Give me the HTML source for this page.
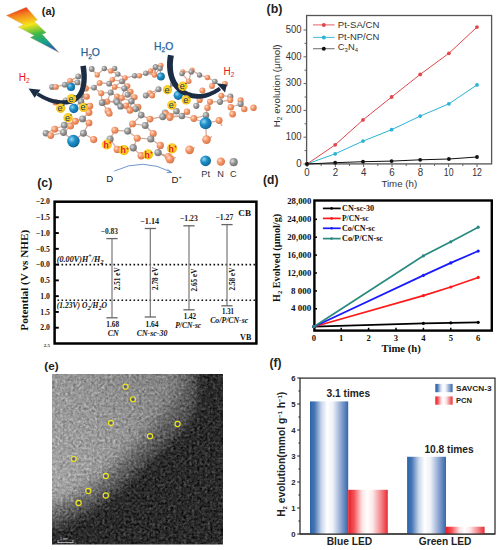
<!DOCTYPE html>
<html><head><meta charset="utf-8"><style>
html,body{margin:0;padding:0;background:#fff;width:502px;height:550px;overflow:hidden}
svg{display:block}
</style></head><body>
<svg width="502" height="550" viewBox="0 0 502 550">

<defs>
 <radialGradient id="gO" cx="0.35" cy="0.35" r="0.75"><stop offset="0" stop-color="#ffdcc6"/><stop offset="0.45" stop-color="#f39467"/><stop offset="1" stop-color="#d06f42"/></radialGradient>
 <radialGradient id="gG" cx="0.35" cy="0.35" r="0.75"><stop offset="0" stop-color="#e2e2e2"/><stop offset="0.45" stop-color="#979797"/><stop offset="1" stop-color="#666666"/></radialGradient>
 <radialGradient id="gB" cx="0.35" cy="0.35" r="0.75"><stop offset="0" stop-color="#8fd6f5"/><stop offset="0.4" stop-color="#1f8fc8"/><stop offset="1" stop-color="#0d5f8f"/></radialGradient>
 <radialGradient id="gY" cx="0.4" cy="0.4" r="0.7"><stop offset="0" stop-color="#ffe24a"/><stop offset="1" stop-color="#f2b705"/></radialGradient>
 <linearGradient id="bolt" x1="30" y1="5" x2="40" y2="52" gradientUnits="userSpaceOnUse">
  <stop offset="0" stop-color="#e8231c"/><stop offset="0.16" stop-color="#f5831f"/><stop offset="0.4" stop-color="#f4e619"/>
  <stop offset="0.62" stop-color="#3cb84a"/><stop offset="0.82" stop-color="#18a08e"/><stop offset="1" stop-color="#2a5cb0"/>
 </linearGradient>
 <linearGradient id="barB" x1="0" y1="0" x2="1" y2="0">
  <stop offset="0" stop-color="#2c63aa"/><stop offset="0.12" stop-color="#4776b5"/><stop offset="0.3" stop-color="#c9d6ea"/>
  <stop offset="0.45" stop-color="#ffffff"/><stop offset="0.6" stop-color="#eef1f8"/><stop offset="0.82" stop-color="#8aa3cf"/><stop offset="1" stop-color="#3566ab"/>
 </linearGradient>
 <linearGradient id="barR" x1="0" y1="0" x2="1" y2="0">
  <stop offset="0" stop-color="#ec1c24"/><stop offset="0.15" stop-color="#f2545a"/><stop offset="0.35" stop-color="#fde3e4"/>
  <stop offset="0.48" stop-color="#ffffff"/><stop offset="0.62" stop-color="#fde8e9"/><stop offset="0.85" stop-color="#f27b80"/><stop offset="1" stop-color="#ea2a32"/>
 </linearGradient>
 <filter id="blur6" x="-20%" y="-20%" width="140%" height="140%"><feGaussianBlur stdDeviation="7"/></filter>
 <filter id="tem" x="-10%" y="-10%" width="120%" height="120%" color-interpolation-filters="sRGB">
  <feGaussianBlur in="SourceGraphic" stdDeviation="5" result="base"/>
  <feTurbulence type="fractalNoise" baseFrequency="0.38" numOctaves="3" seed="11" result="t"/>
  <feColorMatrix in="t" type="matrix" values="0.33 0.33 0.33 0 0  0.33 0.33 0.33 0 0  0.33 0.33 0.33 0 0  0 0 0 0 1" result="gn"/>
  <feComposite in="base" in2="gn" operator="arithmetic" k1="0" k2="1" k3="0.7" k4="-0.35"/>
 </filter>
 <linearGradient id="temL" x1="50" y1="500" x2="200" y2="370" gradientUnits="userSpaceOnUse"><stop offset="0" stop-color="#a8a8a8"/><stop offset="0.5" stop-color="#969696"/><stop offset="1" stop-color="#7a7a7a"/></linearGradient>
 <clipPath id="temclip"><rect x="52" y="374" width="171" height="170.5"/></clipPath>
</defs>

<rect width="502" height="550" fill="#fff"/>
<g>
<polygon points="6.4,15.5 26.3,7.2 37.5,19.9 34.3,21.5 46.2,32.7 42.2,34.3 59,52.6 30.3,37.5 34.3,35.4 18.3,27.1 23.9,24.7" fill="url(#bolt)" stroke="#c9a060" stroke-width="0.3"/>
<text x="41.8" y="15.3" font-family='"Liberation Sans", sans-serif' font-size="11" font-weight="bold" font-style="normal" fill="#222" text-anchor="start" >(a)</text>
<line x1="52.1" y1="86.9" x2="55.9" y2="86.9" stroke="#c99a86" stroke-width="1.2" opacity="0.85"/>
<line x1="55.9" y1="86.9" x2="64.8" y2="84.7" stroke="#c99a86" stroke-width="1.2" opacity="0.85"/>
<line x1="64.8" y1="84.7" x2="70" y2="80.9" stroke="#c99a86" stroke-width="1.2" opacity="0.85"/>
<line x1="64.8" y1="84.7" x2="71" y2="86.9" stroke="#c99a86" stroke-width="1.2" opacity="0.85"/>
<line x1="70" y1="80.9" x2="77.5" y2="82.4" stroke="#c99a86" stroke-width="1.2" opacity="0.85"/>
<line x1="70" y1="80.9" x2="78.3" y2="76.4" stroke="#c99a86" stroke-width="1.2" opacity="0.85"/>
<line x1="70" y1="80.9" x2="71" y2="86.9" stroke="#c99a86" stroke-width="1.2" opacity="0.85"/>
<line x1="77.5" y1="82.4" x2="85.7" y2="88.4" stroke="#c99a86" stroke-width="1.2" opacity="0.85"/>
<line x1="77.5" y1="82.4" x2="71" y2="86.9" stroke="#c99a86" stroke-width="1.2" opacity="0.85"/>
<line x1="91.7" y1="69" x2="97.2" y2="74.9" stroke="#c99a86" stroke-width="1.2" opacity="0.85"/>
<line x1="85.7" y1="88.4" x2="94" y2="87.6" stroke="#c99a86" stroke-width="1.2" opacity="0.85"/>
<line x1="85.7" y1="88.4" x2="81.3" y2="95.1" stroke="#c99a86" stroke-width="1.2" opacity="0.85"/>
<line x1="94" y1="87.6" x2="99.6" y2="82.9" stroke="#c99a86" stroke-width="1.2" opacity="0.85"/>
<line x1="94" y1="87.6" x2="101.2" y2="93.2" stroke="#c99a86" stroke-width="1.2" opacity="0.85"/>
<line x1="81.3" y1="95.1" x2="86.6" y2="96.6" stroke="#c99a86" stroke-width="1.2" opacity="0.85"/>
<line x1="81" y1="101.4" x2="86.6" y2="96.6" stroke="#c99a86" stroke-width="1.2" opacity="0.85"/>
<line x1="81" y1="101.4" x2="89.8" y2="106.2" stroke="#c99a86" stroke-width="1.2" opacity="0.85"/>
<line x1="81" y1="101.4" x2="73.8" y2="108.5" stroke="#c99a86" stroke-width="1.2" opacity="0.85"/>
<line x1="89" y1="112.5" x2="82.6" y2="118.9" stroke="#c99a86" stroke-width="1.2" opacity="0.85"/>
<line x1="103.3" y1="102.2" x2="102" y2="102.8" stroke="#c99a86" stroke-width="1.2" opacity="0.85"/>
<line x1="108" y1="110.9" x2="102" y2="102.8" stroke="#c99a86" stroke-width="1.2" opacity="0.85"/>
<line x1="75.4" y1="121.3" x2="82.6" y2="118.9" stroke="#c99a86" stroke-width="1.2" opacity="0.85"/>
<line x1="75.4" y1="121.3" x2="64.3" y2="125.3" stroke="#c99a86" stroke-width="1.2" opacity="0.85"/>
<line x1="82.6" y1="118.9" x2="89" y2="122.9" stroke="#c99a86" stroke-width="1.2" opacity="0.85"/>
<line x1="89" y1="122.9" x2="83.4" y2="133.2" stroke="#c99a86" stroke-width="1.2" opacity="0.85"/>
<line x1="70.6" y1="126.1" x2="64.3" y2="125.3" stroke="#c99a86" stroke-width="1.2" opacity="0.85"/>
<line x1="70.6" y1="126.1" x2="63.5" y2="132.5" stroke="#c99a86" stroke-width="1.2" opacity="0.85"/>
<line x1="64.3" y1="125.3" x2="54.7" y2="129.3" stroke="#c99a86" stroke-width="1.2" opacity="0.85"/>
<line x1="54.7" y1="129.3" x2="45.9" y2="133.2" stroke="#c99a86" stroke-width="1.2" opacity="0.85"/>
<line x1="54.7" y1="129.3" x2="63.5" y2="132.5" stroke="#c99a86" stroke-width="1.2" opacity="0.85"/>
<line x1="50.7" y1="135.6" x2="45.9" y2="133.2" stroke="#c99a86" stroke-width="1.2" opacity="0.85"/>
<line x1="50.7" y1="135.6" x2="63.5" y2="132.5" stroke="#c99a86" stroke-width="1.2" opacity="0.85"/>
<line x1="63.5" y1="132.5" x2="73.4" y2="141.1" stroke="#c99a86" stroke-width="1.2" opacity="0.85"/>
<line x1="83.4" y1="133.2" x2="93.7" y2="139.6" stroke="#c99a86" stroke-width="1.2" opacity="0.85"/>
<line x1="83.4" y1="133.2" x2="73.4" y2="141.1" stroke="#c99a86" stroke-width="1.2" opacity="0.85"/>
<line x1="104.3" y1="68.5" x2="97.2" y2="74.9" stroke="#c99a86" stroke-width="1.2" opacity="0.85"/>
<line x1="104.3" y1="68.5" x2="110.7" y2="70.9" stroke="#c99a86" stroke-width="1.2" opacity="0.85"/>
<line x1="114.7" y1="68.5" x2="110.7" y2="70.9" stroke="#c99a86" stroke-width="1.2" opacity="0.85"/>
<line x1="117.9" y1="74.1" x2="110.7" y2="70.9" stroke="#c99a86" stroke-width="1.2" opacity="0.85"/>
<line x1="117.9" y1="74.1" x2="112.3" y2="79.7" stroke="#c99a86" stroke-width="1.2" opacity="0.85"/>
<line x1="117.9" y1="74.1" x2="125" y2="78.1" stroke="#c99a86" stroke-width="1.2" opacity="0.85"/>
<line x1="134.6" y1="75.7" x2="125" y2="78.1" stroke="#c99a86" stroke-width="1.2" opacity="0.85"/>
<line x1="134.6" y1="75.7" x2="139.4" y2="75.7" stroke="#c99a86" stroke-width="1.2" opacity="0.85"/>
<line x1="145.8" y1="73.3" x2="139.4" y2="75.7" stroke="#c99a86" stroke-width="1.2" opacity="0.85"/>
<line x1="145.8" y1="73.3" x2="150.6" y2="70.9" stroke="#c99a86" stroke-width="1.2" opacity="0.85"/>
<line x1="145.8" y1="73.3" x2="154.5" y2="74.9" stroke="#c99a86" stroke-width="1.2" opacity="0.85"/>
<line x1="155.3" y1="67" x2="150.6" y2="70.9" stroke="#c99a86" stroke-width="1.2" opacity="0.85"/>
<line x1="155.3" y1="67" x2="154.5" y2="74.9" stroke="#c99a86" stroke-width="1.2" opacity="0.85"/>
<line x1="155.3" y1="67" x2="160.9" y2="65.4" stroke="#c99a86" stroke-width="1.2" opacity="0.85"/>
<line x1="160.1" y1="68.5" x2="150.6" y2="70.9" stroke="#c99a86" stroke-width="1.2" opacity="0.85"/>
<line x1="160.1" y1="68.5" x2="154.5" y2="74.9" stroke="#c99a86" stroke-width="1.2" opacity="0.85"/>
<line x1="160.1" y1="68.5" x2="160.9" y2="65.4" stroke="#c99a86" stroke-width="1.2" opacity="0.85"/>
<line x1="160.1" y1="68.5" x2="160.9" y2="76.5" stroke="#c99a86" stroke-width="1.2" opacity="0.85"/>
<line x1="109.1" y1="83.7" x2="112.3" y2="79.7" stroke="#c99a86" stroke-width="1.2" opacity="0.85"/>
<line x1="109.1" y1="83.7" x2="99.6" y2="82.9" stroke="#c99a86" stroke-width="1.2" opacity="0.85"/>
<line x1="109.1" y1="83.7" x2="114.7" y2="86.9" stroke="#c99a86" stroke-width="1.2" opacity="0.85"/>
<line x1="121.9" y1="81.3" x2="112.3" y2="79.7" stroke="#c99a86" stroke-width="1.2" opacity="0.85"/>
<line x1="121.9" y1="81.3" x2="125" y2="78.1" stroke="#c99a86" stroke-width="1.2" opacity="0.85"/>
<line x1="121.9" y1="81.3" x2="114.7" y2="86.9" stroke="#c99a86" stroke-width="1.2" opacity="0.85"/>
<line x1="121.9" y1="81.3" x2="127.5" y2="86.1" stroke="#c99a86" stroke-width="1.2" opacity="0.85"/>
<line x1="110.7" y1="92.5" x2="114.7" y2="86.9" stroke="#c99a86" stroke-width="1.2" opacity="0.85"/>
<line x1="110.7" y1="92.5" x2="101.2" y2="93.2" stroke="#c99a86" stroke-width="1.2" opacity="0.85"/>
<line x1="110.7" y1="92.5" x2="117.1" y2="96.4" stroke="#c99a86" stroke-width="1.2" opacity="0.85"/>
<line x1="110.7" y1="92.5" x2="107" y2="101.6" stroke="#c99a86" stroke-width="1.2" opacity="0.85"/>
<line x1="124.3" y1="88.5" x2="125" y2="78.1" stroke="#c99a86" stroke-width="1.2" opacity="0.85"/>
<line x1="124.3" y1="88.5" x2="114.7" y2="86.9" stroke="#c99a86" stroke-width="1.2" opacity="0.85"/>
<line x1="124.3" y1="88.5" x2="127.5" y2="86.1" stroke="#c99a86" stroke-width="1.2" opacity="0.85"/>
<line x1="124.3" y1="88.5" x2="121.9" y2="98" stroke="#c99a86" stroke-width="1.2" opacity="0.85"/>
<line x1="124.3" y1="88.5" x2="130.6" y2="91.7" stroke="#c99a86" stroke-width="1.2" opacity="0.85"/>
<line x1="127.5" y1="94.8" x2="127.5" y2="86.1" stroke="#c99a86" stroke-width="1.2" opacity="0.85"/>
<line x1="127.5" y1="94.8" x2="121.9" y2="98" stroke="#c99a86" stroke-width="1.2" opacity="0.85"/>
<line x1="127.5" y1="94.8" x2="130.6" y2="91.7" stroke="#c99a86" stroke-width="1.2" opacity="0.85"/>
<line x1="127.5" y1="94.8" x2="134.6" y2="97.2" stroke="#c99a86" stroke-width="1.2" opacity="0.85"/>
<line x1="145.8" y1="95.6" x2="149.8" y2="93.2" stroke="#c99a86" stroke-width="1.2" opacity="0.85"/>
<line x1="145.8" y1="95.6" x2="152.2" y2="95.6" stroke="#c99a86" stroke-width="1.2" opacity="0.85"/>
<line x1="158.5" y1="89.3" x2="149.8" y2="93.2" stroke="#c99a86" stroke-width="1.2" opacity="0.85"/>
<line x1="158.5" y1="89.3" x2="152.2" y2="95.6" stroke="#c99a86" stroke-width="1.2" opacity="0.85"/>
<line x1="102" y1="102.8" x2="101.2" y2="93.2" stroke="#c99a86" stroke-width="1.2" opacity="0.85"/>
<line x1="102" y1="102.8" x2="107" y2="101.6" stroke="#c99a86" stroke-width="1.2" opacity="0.85"/>
<line x1="116.3" y1="101.2" x2="117.1" y2="96.4" stroke="#c99a86" stroke-width="1.2" opacity="0.85"/>
<line x1="116.3" y1="101.2" x2="121.9" y2="98" stroke="#c99a86" stroke-width="1.2" opacity="0.85"/>
<line x1="116.3" y1="101.2" x2="107" y2="101.6" stroke="#c99a86" stroke-width="1.2" opacity="0.85"/>
<line x1="131.4" y1="101.2" x2="121.9" y2="98" stroke="#c99a86" stroke-width="1.2" opacity="0.85"/>
<line x1="131.4" y1="101.2" x2="130.6" y2="91.7" stroke="#c99a86" stroke-width="1.2" opacity="0.85"/>
<line x1="131.4" y1="101.2" x2="134.6" y2="97.2" stroke="#c99a86" stroke-width="1.2" opacity="0.85"/>
<line x1="131.4" y1="101.2" x2="126.1" y2="105.6" stroke="#c99a86" stroke-width="1.2" opacity="0.85"/>
<line x1="131.4" y1="101.2" x2="130" y2="110.4" stroke="#c99a86" stroke-width="1.2" opacity="0.85"/>
<line x1="131.4" y1="101.2" x2="138" y2="107.2" stroke="#c99a86" stroke-width="1.2" opacity="0.85"/>
<line x1="150.6" y1="70.9" x2="155.9" y2="67" stroke="#c99a86" stroke-width="1.2" opacity="0.85"/>
<line x1="154.5" y1="74.9" x2="155.9" y2="67" stroke="#c99a86" stroke-width="1.2" opacity="0.85"/>
<line x1="154.5" y1="74.9" x2="160.9" y2="76.5" stroke="#c99a86" stroke-width="1.2" opacity="0.85"/>
<line x1="160.9" y1="65.4" x2="155.9" y2="67" stroke="#c99a86" stroke-width="1.2" opacity="0.85"/>
<line x1="117.1" y1="96.4" x2="117.3" y2="102.4" stroke="#c99a86" stroke-width="1.2" opacity="0.85"/>
<line x1="121.9" y1="98" x2="117.3" y2="102.4" stroke="#c99a86" stroke-width="1.2" opacity="0.85"/>
<line x1="121.9" y1="98" x2="120.5" y2="106.4" stroke="#c99a86" stroke-width="1.2" opacity="0.85"/>
<line x1="107" y1="101.6" x2="117.3" y2="102.4" stroke="#c99a86" stroke-width="1.2" opacity="0.85"/>
<line x1="117.3" y1="102.4" x2="126.1" y2="105.6" stroke="#c99a86" stroke-width="1.2" opacity="0.85"/>
<line x1="120.5" y1="106.4" x2="126.1" y2="105.6" stroke="#c99a86" stroke-width="1.2" opacity="0.85"/>
<line x1="120.5" y1="106.4" x2="130" y2="110.4" stroke="#c99a86" stroke-width="1.2" opacity="0.85"/>
<line x1="126.1" y1="105.6" x2="135.6" y2="108.8" stroke="#c99a86" stroke-width="1.2" opacity="0.85"/>
<line x1="130" y1="110.4" x2="135.6" y2="108.8" stroke="#c99a86" stroke-width="1.2" opacity="0.85"/>
<line x1="135.6" y1="108.8" x2="138" y2="107.2" stroke="#c99a86" stroke-width="1.2" opacity="0.85"/>
<line x1="138" y1="107.2" x2="141.2" y2="115.1" stroke="#c99a86" stroke-width="1.2" opacity="0.85"/>
<line x1="141.2" y1="115.1" x2="150" y2="119.1" stroke="#c99a86" stroke-width="1.2" opacity="0.85"/>
<line x1="141.2" y1="115.1" x2="132.5" y2="123.9" stroke="#c99a86" stroke-width="1.2" opacity="0.85"/>
<line x1="150" y1="119.1" x2="162.7" y2="116.7" stroke="#c99a86" stroke-width="1.2" opacity="0.85"/>
<line x1="150" y1="119.1" x2="145.2" y2="125.5" stroke="#c99a86" stroke-width="1.2" opacity="0.85"/>
<line x1="162.7" y1="116.7" x2="169.9" y2="117.5" stroke="#c99a86" stroke-width="1.2" opacity="0.85"/>
<line x1="162.7" y1="116.7" x2="165.9" y2="114.3" stroke="#c99a86" stroke-width="1.2" opacity="0.85"/>
<line x1="162.7" y1="116.7" x2="170.1" y2="116.2" stroke="#c99a86" stroke-width="1.2" opacity="0.85"/>
<line x1="169.9" y1="117.5" x2="176.5" y2="111.3" stroke="#c99a86" stroke-width="1.2" opacity="0.85"/>
<line x1="169.9" y1="117.5" x2="181.9" y2="116" stroke="#c99a86" stroke-width="1.2" opacity="0.85"/>
<line x1="169.9" y1="117.5" x2="165" y2="112.6" stroke="#c99a86" stroke-width="1.2" opacity="0.85"/>
<line x1="165.9" y1="114.3" x2="165" y2="112.6" stroke="#c99a86" stroke-width="1.2" opacity="0.85"/>
<line x1="132.5" y1="123.9" x2="145.2" y2="125.5" stroke="#c99a86" stroke-width="1.2" opacity="0.85"/>
<line x1="132.5" y1="123.9" x2="127.7" y2="131.1" stroke="#c99a86" stroke-width="1.2" opacity="0.85"/>
<line x1="145.2" y1="125.5" x2="153.2" y2="133.5" stroke="#c99a86" stroke-width="1.2" opacity="0.85"/>
<line x1="114.9" y1="130.3" x2="127.7" y2="131.1" stroke="#c99a86" stroke-width="1.2" opacity="0.85"/>
<line x1="114.9" y1="130.3" x2="110.1" y2="139" stroke="#c99a86" stroke-width="1.2" opacity="0.85"/>
<line x1="127.7" y1="131.1" x2="137.2" y2="138.2" stroke="#c99a86" stroke-width="1.2" opacity="0.85"/>
<line x1="153.2" y1="133.5" x2="150.8" y2="139" stroke="#c99a86" stroke-width="1.2" opacity="0.85"/>
<line x1="137.2" y1="138.2" x2="150.8" y2="139" stroke="#c99a86" stroke-width="1.2" opacity="0.85"/>
<line x1="137.2" y1="138.2" x2="133.2" y2="147.8" stroke="#c99a86" stroke-width="1.2" opacity="0.85"/>
<line x1="150.8" y1="139" x2="160.3" y2="145.4" stroke="#c99a86" stroke-width="1.2" opacity="0.85"/>
<line x1="110.1" y1="139" x2="117.3" y2="149.4" stroke="#c99a86" stroke-width="1.2" opacity="0.85"/>
<line x1="133.2" y1="147.8" x2="141.2" y2="155.8" stroke="#c99a86" stroke-width="1.2" opacity="0.85"/>
<line x1="160.3" y1="145.4" x2="158" y2="152.6" stroke="#c99a86" stroke-width="1.2" opacity="0.85"/>
<line x1="158" y1="152.6" x2="168.3" y2="156.6" stroke="#c99a86" stroke-width="1.2" opacity="0.85"/>
<line x1="158" y1="152.6" x2="170.1" y2="159.1" stroke="#c99a86" stroke-width="1.2" opacity="0.85"/>
<line x1="181.9" y1="73.6" x2="182.8" y2="71.9" stroke="#c99a86" stroke-width="1.2" opacity="0.85"/>
<line x1="181.9" y1="73.6" x2="188.7" y2="81.2" stroke="#c99a86" stroke-width="1.2" opacity="0.85"/>
<line x1="191.2" y1="71.9" x2="182.8" y2="71.9" stroke="#c99a86" stroke-width="1.2" opacity="0.85"/>
<line x1="191.2" y1="71.9" x2="192.1" y2="70.2" stroke="#c99a86" stroke-width="1.2" opacity="0.85"/>
<line x1="191.2" y1="71.9" x2="188.7" y2="81.2" stroke="#c99a86" stroke-width="1.2" opacity="0.85"/>
<line x1="199.5" y1="75" x2="192.1" y2="70.2" stroke="#c99a86" stroke-width="1.2" opacity="0.85"/>
<line x1="199.5" y1="75" x2="207.5" y2="77.4" stroke="#c99a86" stroke-width="1.2" opacity="0.85"/>
<line x1="214.8" y1="81.5" x2="207.5" y2="77.4" stroke="#c99a86" stroke-width="1.2" opacity="0.85"/>
<line x1="214.8" y1="81.5" x2="212" y2="86" stroke="#c99a86" stroke-width="1.2" opacity="0.85"/>
<line x1="230.4" y1="96.5" x2="221.3" y2="95.7" stroke="#c99a86" stroke-width="1.2" opacity="0.85"/>
<line x1="230.4" y1="96.5" x2="230.2" y2="99.9" stroke="#c99a86" stroke-width="1.2" opacity="0.85"/>
<line x1="220" y1="101.8" x2="221.3" y2="95.7" stroke="#c99a86" stroke-width="1.2" opacity="0.85"/>
<line x1="220" y1="101.8" x2="210" y2="101.8" stroke="#c99a86" stroke-width="1.2" opacity="0.85"/>
<line x1="220" y1="101.8" x2="230.2" y2="99.9" stroke="#c99a86" stroke-width="1.2" opacity="0.85"/>
<line x1="240.6" y1="104" x2="240.6" y2="100.4" stroke="#c99a86" stroke-width="1.2" opacity="0.85"/>
<line x1="240.6" y1="104" x2="230.8" y2="107.3" stroke="#c99a86" stroke-width="1.2" opacity="0.85"/>
<line x1="240.6" y1="104" x2="244.3" y2="109.1" stroke="#c99a86" stroke-width="1.2" opacity="0.85"/>
<line x1="196.3" y1="105.8" x2="199.7" y2="99.9" stroke="#c99a86" stroke-width="1.2" opacity="0.85"/>
<line x1="176.5" y1="111.3" x2="170.1" y2="116.2" stroke="#c99a86" stroke-width="1.2" opacity="0.85"/>
<line x1="181.9" y1="116" x2="187" y2="111.7" stroke="#c99a86" stroke-width="1.2" opacity="0.85"/>
<line x1="181.9" y1="116" x2="170.1" y2="116.2" stroke="#c99a86" stroke-width="1.2" opacity="0.85"/>
<line x1="181.9" y1="116" x2="193.8" y2="118.5" stroke="#c99a86" stroke-width="1.2" opacity="0.85"/>
<line x1="206" y1="115.3" x2="207.5" y2="107.7" stroke="#c99a86" stroke-width="1.2" opacity="0.85"/>
<line x1="206" y1="115.3" x2="193.8" y2="118.5" stroke="#c99a86" stroke-width="1.2" opacity="0.85"/>
<line x1="206" y1="115.3" x2="205.6" y2="123.3" stroke="#c99a86" stroke-width="1.2" opacity="0.85"/>
<line x1="165" y1="112.6" x2="170.1" y2="116.2" stroke="#c99a86" stroke-width="1.2" opacity="0.85"/>
<line x1="219.1" y1="120.5" x2="205.6" y2="123.3" stroke="#c99a86" stroke-width="1.2" opacity="0.85"/>
<line x1="193.8" y1="118.5" x2="205.6" y2="123.3" stroke="#c99a86" stroke-width="1.2" opacity="0.85"/>
<line x1="205.6" y1="123.3" x2="206.5" y2="139.6" stroke="#c99a86" stroke-width="1.2" opacity="0.85"/>
<line x1="206.5" y1="139.6" x2="212" y2="136.5" stroke="#c99a86" stroke-width="1.2" opacity="0.85"/>
<line x1="189.6" y1="149.8" x2="195" y2="147.5" stroke="#c99a86" stroke-width="1.2" opacity="0.85"/>
<line x1="170.1" y1="159.1" x2="176" y2="157.5" stroke="#c99a86" stroke-width="1.2" opacity="0.85"/>
<line x1="73" y1="141.2" x2="73.5" y2="146" stroke="#c99a86" stroke-width="1.2" opacity="0.85"/>
<line x1="219.1" y1="120.5" x2="222" y2="126" stroke="#c99a86" stroke-width="1.2" opacity="0.85"/>
<circle cx="160.9" cy="65.4" r="2.64" fill="url(#gO)"/>
<circle cx="155.3" cy="67" r="2.64" fill="url(#gG)"/>
<circle cx="155.9" cy="67" r="2.64" fill="url(#gG)"/>
<circle cx="104.3" cy="68.5" r="2.64" fill="url(#gG)"/>
<circle cx="114.7" cy="68.5" r="2.64" fill="url(#gG)"/>
<circle cx="160.1" cy="68.5" r="2.64" fill="url(#gG)"/>
<circle cx="91.7" cy="69" r="2.88" fill="url(#gG)"/>
<circle cx="192.1" cy="70.2" r="2.64" fill="url(#gO)"/>
<circle cx="110.7" cy="70.9" r="2.64" fill="url(#gO)"/>
<circle cx="150.6" cy="70.9" r="2.64" fill="url(#gO)"/>
<circle cx="182.8" cy="71.9" r="2.64" fill="url(#gO)"/>
<circle cx="191.2" cy="71.9" r="2.64" fill="url(#gG)"/>
<circle cx="145.8" cy="73.3" r="2.76" fill="url(#gG)"/>
<circle cx="181.9" cy="73.6" r="2.64" fill="url(#gG)"/>
<circle cx="117.9" cy="74.1" r="2.64" fill="url(#gG)"/>
<circle cx="97.2" cy="74.9" r="2.64" fill="url(#gO)"/>
<circle cx="154.5" cy="74.9" r="2.76" fill="url(#gO)"/>
<circle cx="199.5" cy="75" r="2.64" fill="url(#gG)"/>
<circle cx="134.6" cy="75.7" r="2.76" fill="url(#gG)"/>
<circle cx="139.4" cy="75.7" r="2.76" fill="url(#gO)"/>
<circle cx="78.3" cy="76.4" r="2.88" fill="url(#gG)"/>
<circle cx="160.9" cy="76.5" r="4.00" fill="url(#gB)"/>
<circle cx="207.5" cy="77.4" r="2.76" fill="url(#gO)"/>
<circle cx="125" cy="78.1" r="2.76" fill="url(#gO)"/>
<circle cx="112.3" cy="79.7" r="2.76" fill="url(#gO)"/>
<circle cx="70" cy="80.9" r="2.88" fill="url(#gO)"/>
<circle cx="188.7" cy="81.2" r="2.76" fill="url(#gO)"/>
<circle cx="121.9" cy="81.3" r="2.88" fill="url(#gG)"/>
<circle cx="214.8" cy="81.5" r="2.76" fill="url(#gG)"/>
<circle cx="77.5" cy="82.4" r="2.88" fill="url(#gG)"/>
<circle cx="99.6" cy="82.9" r="2.88" fill="url(#gO)"/>
<circle cx="109.1" cy="83.7" r="2.88" fill="url(#gG)"/>
<circle cx="172.6" cy="83.8" r="2.76" fill="url(#gG)"/>
<circle cx="225" cy="84" r="2.88" fill="url(#gO)"/>
<circle cx="64.8" cy="84.7" r="2.88" fill="url(#gG)"/>
<circle cx="212" cy="86" r="2.88" fill="url(#gO)"/>
<circle cx="127.5" cy="86.1" r="2.88" fill="url(#gO)"/>
<circle cx="52.1" cy="86.9" r="2.88" fill="url(#gG)"/>
<circle cx="55.9" cy="86.9" r="2.88" fill="url(#gO)"/>
<circle cx="71" cy="86.9" r="4.10" fill="url(#gB)"/>
<circle cx="114.7" cy="86.9" r="2.88" fill="url(#gO)"/>
<circle cx="94" cy="87.6" r="2.88" fill="url(#gG)"/>
<circle cx="85.7" cy="88.4" r="3.22" fill="url(#gO)"/>
<circle cx="124.3" cy="88.5" r="2.99" fill="url(#gG)"/>
<circle cx="158.5" cy="89.3" r="2.99" fill="url(#gG)"/>
<circle cx="202.4" cy="90.6" r="2.99" fill="url(#gO)"/>
<circle cx="130.6" cy="91.7" r="2.99" fill="url(#gO)"/>
<circle cx="110.7" cy="92.5" r="2.99" fill="url(#gG)"/>
<circle cx="101.2" cy="93.2" r="2.99" fill="url(#gO)"/>
<circle cx="149.8" cy="93.2" r="2.99" fill="url(#gO)"/>
<circle cx="127.5" cy="94.8" r="2.99" fill="url(#gG)"/>
<circle cx="81.3" cy="95.1" r="3.22" fill="url(#gG)"/>
<circle cx="178.2" cy="95.3" r="4.60" fill="url(#gB)"/>
<circle cx="145.8" cy="95.6" r="2.99" fill="url(#gG)"/>
<circle cx="152.2" cy="95.6" r="2.99" fill="url(#gO)"/>
<circle cx="221.3" cy="95.7" r="2.99" fill="url(#gO)"/>
<circle cx="117.1" cy="96.4" r="2.99" fill="url(#gO)"/>
<circle cx="230.4" cy="96.5" r="2.99" fill="url(#gG)"/>
<circle cx="86.6" cy="96.6" r="3.22" fill="url(#gO)"/>
<circle cx="134.6" cy="97.2" r="2.99" fill="url(#gO)"/>
<circle cx="121.9" cy="98" r="2.99" fill="url(#gO)"/>
<circle cx="199.7" cy="99.9" r="3.10" fill="url(#gO)"/>
<circle cx="230.2" cy="99.9" r="3.10" fill="url(#gO)"/>
<circle cx="240.6" cy="100.4" r="3.10" fill="url(#gO)"/>
<circle cx="65.9" cy="100.6" r="3.22" fill="url(#gG)"/>
<circle cx="116.3" cy="101.2" r="3.22" fill="url(#gG)"/>
<circle cx="131.4" cy="101.2" r="3.22" fill="url(#gG)"/>
<circle cx="81" cy="101.4" r="3.22" fill="url(#gG)"/>
<circle cx="107" cy="101.6" r="3.22" fill="url(#gO)"/>
<circle cx="210" cy="101.8" r="3.10" fill="url(#gO)"/>
<circle cx="220" cy="101.8" r="3.10" fill="url(#gG)"/>
<circle cx="55.5" cy="102.2" r="3.22" fill="url(#gO)"/>
<circle cx="103.3" cy="102.2" r="3.22" fill="url(#gO)"/>
<circle cx="117.3" cy="102.4" r="3.22" fill="url(#gG)"/>
<circle cx="102" cy="102.8" r="3.22" fill="url(#gG)"/>
<circle cx="240.6" cy="104" r="3.10" fill="url(#gG)"/>
<circle cx="126.1" cy="105.6" r="3.22" fill="url(#gO)"/>
<circle cx="196.3" cy="105.8" r="3.10" fill="url(#gG)"/>
<circle cx="89.8" cy="106.2" r="3.45" fill="url(#gO)"/>
<circle cx="120.5" cy="106.4" r="3.22" fill="url(#gG)"/>
<circle cx="138" cy="107.2" r="3.33" fill="url(#gO)"/>
<circle cx="230.8" cy="107.3" r="3.22" fill="url(#gO)"/>
<circle cx="207.5" cy="107.7" r="3.22" fill="url(#gO)"/>
<circle cx="253.5" cy="107.8" r="3.22" fill="url(#gO)"/>
<circle cx="73.8" cy="108.5" r="4.70" fill="url(#gB)"/>
<circle cx="135.6" cy="108.8" r="3.33" fill="url(#gG)"/>
<circle cx="244.3" cy="109.1" r="3.22" fill="url(#gO)"/>
<circle cx="130" cy="110.4" r="3.33" fill="url(#gO)"/>
<circle cx="108" cy="110.9" r="3.45" fill="url(#gO)"/>
<circle cx="176.5" cy="111.3" r="3.22" fill="url(#gG)"/>
<circle cx="187" cy="111.7" r="3.22" fill="url(#gO)"/>
<circle cx="89" cy="112.5" r="3.45" fill="url(#gO)"/>
<circle cx="165" cy="112.6" r="3.22" fill="url(#gG)"/>
<circle cx="109.3" cy="113.5" r="3.33" fill="url(#gO)"/>
<circle cx="232.6" cy="114.2" r="3.33" fill="url(#gO)"/>
<circle cx="165.9" cy="114.3" r="3.45" fill="url(#gO)"/>
<circle cx="141.2" cy="115.1" r="3.33" fill="url(#gG)"/>
<circle cx="206" cy="115.3" r="3.22" fill="url(#gG)"/>
<circle cx="181.9" cy="116" r="3.22" fill="url(#gG)"/>
<circle cx="170.1" cy="116.2" r="3.33" fill="url(#gO)"/>
<circle cx="162.7" cy="116.7" r="3.45" fill="url(#gG)"/>
<circle cx="169.9" cy="117.5" r="3.45" fill="url(#gO)"/>
<circle cx="193.8" cy="118.5" r="3.45" fill="url(#gO)"/>
<circle cx="82.6" cy="118.9" r="3.45" fill="url(#gG)"/>
<circle cx="150" cy="119.1" r="3.45" fill="url(#gO)"/>
<circle cx="219.1" cy="120.5" r="3.45" fill="url(#gO)"/>
<circle cx="75.4" cy="121.3" r="3.45" fill="url(#gO)"/>
<circle cx="89" cy="122.9" r="3.45" fill="url(#gO)"/>
<circle cx="205.6" cy="123.3" r="6.00" fill="url(#gB)"/>
<circle cx="132.5" cy="123.9" r="3.45" fill="url(#gO)"/>
<circle cx="64.3" cy="125.3" r="3.45" fill="url(#gG)"/>
<circle cx="145.2" cy="125.5" r="3.45" fill="url(#gG)"/>
<circle cx="70.6" cy="126.1" r="3.45" fill="url(#gO)"/>
<circle cx="54.7" cy="129.3" r="3.45" fill="url(#gO)"/>
<circle cx="114.9" cy="130.3" r="3.56" fill="url(#gO)"/>
<circle cx="127.7" cy="131.1" r="3.56" fill="url(#gG)"/>
<circle cx="63.5" cy="132.5" r="3.45" fill="url(#gG)"/>
<circle cx="45.9" cy="133.2" r="3.22" fill="url(#gG)"/>
<circle cx="83.4" cy="133.2" r="3.45" fill="url(#gG)"/>
<circle cx="153.2" cy="133.5" r="3.56" fill="url(#gO)"/>
<circle cx="50.7" cy="135.6" r="3.45" fill="url(#gO)"/>
<circle cx="137.2" cy="138.2" r="3.56" fill="url(#gO)"/>
<circle cx="110.1" cy="139" r="3.56" fill="url(#gG)"/>
<circle cx="150.8" cy="139" r="3.56" fill="url(#gG)"/>
<circle cx="93.7" cy="139.6" r="3.56" fill="url(#gO)"/>
<circle cx="206.5" cy="139.6" r="4.37" fill="url(#gO)"/>
<circle cx="73.4" cy="141.1" r="6.30" fill="url(#gB)"/>
<circle cx="160.3" cy="145.4" r="3.68" fill="url(#gO)"/>
<circle cx="133.2" cy="147.8" r="3.68" fill="url(#gG)"/>
<circle cx="117.3" cy="149.4" r="3.68" fill="url(#gO)"/>
<circle cx="189.6" cy="149.8" r="4.37" fill="url(#gO)"/>
<circle cx="158" cy="152.6" r="3.68" fill="url(#gG)"/>
<circle cx="141.2" cy="155.8" r="3.68" fill="url(#gO)"/>
<circle cx="168.3" cy="156.6" r="3.68" fill="url(#gO)"/>
<circle cx="170.1" cy="159.1" r="4.37" fill="url(#gO)"/>
<polygon points="80.33,66.21 80.68,68.42 80.96,70.54 81.18,72.60 81.33,74.59 81.42,76.52 81.45,78.38 81.40,80.17 81.30,81.89 81.12,83.54 80.88,85.11 80.58,86.61 80.20,88.03 79.76,89.38 79.26,90.64 78.68,91.83 78.04,92.95 77.34,93.99 76.56,94.96 75.71,95.86 74.78,96.69 73.77,97.46 72.67,98.16 71.48,98.79 70.30,99.31 69.05,99.60 67.67,99.86 66.28,100.06 64.89,100.19 63.50,100.26 62.11,100.26 60.72,100.21 59.33,100.10 57.95,99.94 56.57,99.72 55.20,99.46 53.83,99.14 52.48,98.78 51.13,98.38 49.79,97.93 48.47,97.45 47.16,96.93 45.86,96.38 44.58,95.79 43.31,95.18 42.07,94.53 40.85,93.87 39.64,93.18 38.45,92.47 36.55,95.53 37.76,96.30 39.01,97.06 40.28,97.80 41.58,98.52 42.90,99.21 44.25,99.87 45.62,100.51 47.01,101.11 48.43,101.67 49.86,102.19 51.32,102.67 52.79,103.11 54.28,103.50 55.79,103.83 57.31,104.12 58.85,104.34 60.41,104.51 61.97,104.61 63.55,104.65 65.14,104.62 66.73,104.51 68.34,104.33 69.95,104.07 71.70,103.69 73.43,103.00 74.96,102.24 76.40,101.38 77.75,100.42 79.00,99.36 80.16,98.21 81.22,96.96 82.19,95.63 83.05,94.22 83.82,92.73 84.49,91.17 85.07,89.54 85.57,87.85 85.97,86.09 86.30,84.27 86.54,82.40 86.71,80.46 86.79,78.47 86.81,76.42 86.76,74.31 86.63,72.15 86.44,69.94 86.19,67.68 85.87,65.39" fill="#1b2d44"/>
<polygon points="28.6,88.4 40.5,89.8 34.6,97.8" fill="#1b2d44"/>
<polygon points="167.94,54.71 167.53,57.36 167.23,60.03 167.07,62.66 167.03,65.24 167.12,67.77 167.35,70.24 167.70,72.65 168.19,74.99 168.81,77.25 169.56,79.44 170.44,81.55 171.46,83.57 172.62,85.49 173.90,87.30 175.32,89.01 176.87,90.60 178.55,92.07 180.35,93.41 182.27,94.61 184.32,95.67 186.48,96.59 188.75,97.35 191.13,97.96 193.59,98.41 194.97,98.57 196.29,98.67 197.59,98.71 198.86,98.71 200.12,98.65 201.36,98.54 202.58,98.38 203.78,98.18 204.97,97.93 206.14,97.64 207.29,97.31 208.42,96.94 209.54,96.54 210.64,96.10 211.73,95.62 212.81,95.11 213.87,94.57 214.92,94.00 215.97,93.41 217.00,92.79 218.03,92.14 219.05,91.47 220.07,90.78 221.06,90.07 218.94,86.93 217.93,87.58 216.95,88.19 215.96,88.79 214.98,89.35 214.00,89.89 213.01,90.40 212.03,90.88 211.05,91.33 210.06,91.75 209.07,92.14 208.08,92.49 207.08,92.81 206.08,93.09 205.07,93.33 204.05,93.54 203.03,93.71 202.00,93.84 200.95,93.93 199.89,93.98 198.82,93.99 197.73,93.95 196.63,93.87 195.51,93.75 194.41,93.59 192.23,93.14 190.21,92.58 188.31,91.89 186.52,91.09 184.86,90.18 183.30,89.16 181.86,88.04 180.53,86.82 179.31,85.50 178.19,84.09 177.17,82.58 176.26,80.98 175.46,79.30 174.76,77.52 174.16,75.66 173.68,73.73 173.30,71.71 173.04,69.62 172.89,67.46 172.85,65.23 172.92,62.94 173.11,60.60 173.42,58.20 173.86,55.69" fill="#1b2d44"/>
<polygon points="226.9,84.6 216.4,83.2 225,92.4" fill="#1b2d44"/>
<circle cx="71.6" cy="98.6" r="4.7" fill="url(#gY)"/>
<text x="71.1" y="101.6" font-family='"Liberation Sans", sans-serif' font-size="9" fill="#1d3553" text-anchor="middle">e</text>
<rect x="73.8" y="95.39999999999999" width="1.8" height="0.7" fill="#1d3553"/>
<circle cx="60.6" cy="108.2" r="4.7" fill="url(#gY)"/>
<text x="60.1" y="111.2" font-family='"Liberation Sans", sans-serif' font-size="9" fill="#1d3553" text-anchor="middle">e</text>
<rect x="62.800000000000004" y="105.0" width="1.8" height="0.7" fill="#1d3553"/>
<circle cx="83.5" cy="107.4" r="4.7" fill="url(#gY)"/>
<text x="83.0" y="110.4" font-family='"Liberation Sans", sans-serif' font-size="9" fill="#1d3553" text-anchor="middle">e</text>
<rect x="85.7" y="104.2" width="1.8" height="0.7" fill="#1d3553"/>
<circle cx="68" cy="117.8" r="4.7" fill="url(#gY)"/>
<text x="67.5" y="120.8" font-family='"Liberation Sans", sans-serif' font-size="9" fill="#1d3553" text-anchor="middle">e</text>
<rect x="70.2" y="114.6" width="1.8" height="0.7" fill="#1d3553"/>
<circle cx="167.5" cy="89.7" r="4.7" fill="url(#gY)"/>
<text x="167.0" y="92.7" font-family='"Liberation Sans", sans-serif' font-size="9" fill="#1d3553" text-anchor="middle">e</text>
<rect x="169.7" y="86.5" width="1.8" height="0.7" fill="#1d3553"/>
<circle cx="182.8" cy="86.3" r="4.7" fill="url(#gY)"/>
<text x="182.3" y="89.3" font-family='"Liberation Sans", sans-serif' font-size="9" fill="#1d3553" text-anchor="middle">e</text>
<rect x="185.0" y="83.1" width="1.8" height="0.7" fill="#1d3553"/>
<circle cx="186.2" cy="99.9" r="4.7" fill="url(#gY)"/>
<text x="185.7" y="102.9" font-family='"Liberation Sans", sans-serif' font-size="9" fill="#1d3553" text-anchor="middle">e</text>
<rect x="188.39999999999998" y="96.7" width="1.8" height="0.7" fill="#1d3553"/>
<circle cx="171.8" cy="105" r="4.7" fill="url(#gY)"/>
<text x="171.3" y="108.0" font-family='"Liberation Sans", sans-serif' font-size="9" fill="#1d3553" text-anchor="middle">e</text>
<rect x="174.0" y="101.8" width="1.8" height="0.7" fill="#1d3553"/>
<circle cx="106.8" cy="144.5" r="5.1" fill="url(#gY)"/>
<text x="106.0" y="147.7" font-family='"Liberation Sans", sans-serif' font-size="8.6" font-weight="bold" fill="#e8141a" text-anchor="middle">h</text>
<text x="108.8" y="143.9" font-family='"Liberation Sans", sans-serif' font-size="5" font-weight="bold" fill="#e8141a">+</text>
<circle cx="123.9" cy="150.1" r="5.1" fill="url(#gY)"/>
<text x="123.10000000000001" y="153.29999999999998" font-family='"Liberation Sans", sans-serif' font-size="8.6" font-weight="bold" fill="#e8141a" text-anchor="middle">h</text>
<text x="125.9" y="149.5" font-family='"Liberation Sans", sans-serif' font-size="5" font-weight="bold" fill="#e8141a">+</text>
<circle cx="148" cy="154.3" r="5.1" fill="url(#gY)"/>
<text x="147.2" y="157.5" font-family='"Liberation Sans", sans-serif' font-size="8.6" font-weight="bold" fill="#e8141a" text-anchor="middle">h</text>
<text x="150.0" y="153.70000000000002" font-family='"Liberation Sans", sans-serif' font-size="5" font-weight="bold" fill="#e8141a">+</text>
<circle cx="172" cy="148.3" r="5.1" fill="url(#gY)"/>
<text x="171.2" y="151.5" font-family='"Liberation Sans", sans-serif' font-size="8.6" font-weight="bold" fill="#e8141a" text-anchor="middle">h</text>
<text x="174.0" y="147.70000000000002" font-family='"Liberation Sans", sans-serif' font-size="5" font-weight="bold" fill="#e8141a">+</text>
<text x="80.7" y="56.3" font-family='"Liberation Sans", sans-serif' font-size="10.4" fill="#1f639c" stroke="#1f639c" stroke-width="0.25">H<tspan font-size="6.5" dy="2.2">2</tspan><tspan dy="-2.2">O</tspan></text>
<text x="154" y="50" font-family='"Liberation Sans", sans-serif' font-size="10.4" fill="#1f639c" stroke="#1f639c" stroke-width="0.25">H<tspan font-size="6.5" dy="2.2">2</tspan><tspan dy="-2.2">O</tspan></text>
<text x="18.7" y="81.2" font-family='"Liberation Sans", sans-serif' font-size="10" fill="#e4161c">H<tspan font-size="6.5" dy="2.2">2</tspan></text>
<text x="223.5" y="74.5" font-family='"Liberation Sans", sans-serif' font-size="10" fill="#e4161c">H<tspan font-size="6.5" dy="2.2">2</tspan></text>
<path d="M114.3,171.1 Q143,157 171,172" fill="none" stroke="#4a7fc0" stroke-width="0.8"/>
<path d="M167.5,169.3 L171.7,172.5 L166.8,172.6" fill="none" stroke="#4a7fc0" stroke-width="0.8"/>
<text x="106.2" y="182.2" font-family='"Liberation Sans", sans-serif' font-size="9.6" font-weight="normal" font-style="normal" fill="#222" text-anchor="start" >D</text>
<text x="171.5" y="182.6" font-family='"Liberation Sans", sans-serif' font-size="9.6" fill="#222">D<tspan font-size="5.5" dy="-4">+</tspan></text>
<circle cx="205.6" cy="160.8" r="5.4" fill="url(#gB)"/>
<circle cx="220.9" cy="161.6" r="4.2" fill="url(#gO)"/>
<circle cx="233.6" cy="162.2" r="4.1" fill="url(#gG)"/>
<text x="205.6" y="177.0" font-family='"Liberation Sans", sans-serif' font-size="9.2" font-weight="normal" font-style="normal" fill="#333" text-anchor="middle" >Pt</text>
<text x="220.5" y="177.0" font-family='"Liberation Sans", sans-serif' font-size="9.2" font-weight="normal" font-style="normal" fill="#333" text-anchor="middle" >N</text>
<text x="233.2" y="177.0" font-family='"Liberation Sans", sans-serif' font-size="9.2" font-weight="normal" font-style="normal" fill="#333" text-anchor="middle" >C</text>
</g>
<g>
<rect x="306.6" y="15.5" width="185" height="148.4" fill="none" stroke="#555" stroke-width="1.3"/>
<line x1="303.5" y1="164.00" x2="306.5" y2="164.00" stroke="#555" stroke-width="0.9"/>
<text x="301.6" y="166.8" font-family='"Liberation Sans", sans-serif' font-size="10.2" font-weight="normal" font-style="normal" fill="#333" text-anchor="end" textLength="5.4" lengthAdjust="spacingAndGlyphs" >0</text>
<line x1="304.5" y1="150.60" x2="306.5" y2="150.60" stroke="#555" stroke-width="0.9"/>
<line x1="303.5" y1="137.20" x2="306.5" y2="137.20" stroke="#555" stroke-width="0.9"/>
<text x="301.6" y="140.0" font-family='"Liberation Sans", sans-serif' font-size="10.2" font-weight="normal" font-style="normal" fill="#333" text-anchor="end" textLength="15.8" lengthAdjust="spacingAndGlyphs" >100</text>
<line x1="304.5" y1="123.80" x2="306.5" y2="123.80" stroke="#555" stroke-width="0.9"/>
<line x1="303.5" y1="110.40" x2="306.5" y2="110.40" stroke="#555" stroke-width="0.9"/>
<text x="301.6" y="113.2" font-family='"Liberation Sans", sans-serif' font-size="10.2" font-weight="normal" font-style="normal" fill="#333" text-anchor="end" textLength="15.8" lengthAdjust="spacingAndGlyphs" >200</text>
<line x1="304.5" y1="97.00" x2="306.5" y2="97.00" stroke="#555" stroke-width="0.9"/>
<line x1="303.5" y1="83.60" x2="306.5" y2="83.60" stroke="#555" stroke-width="0.9"/>
<text x="301.6" y="86.39999999999999" font-family='"Liberation Sans", sans-serif' font-size="10.2" font-weight="normal" font-style="normal" fill="#333" text-anchor="end" textLength="15.8" lengthAdjust="spacingAndGlyphs" >300</text>
<line x1="304.5" y1="70.20" x2="306.5" y2="70.20" stroke="#555" stroke-width="0.9"/>
<line x1="303.5" y1="56.80" x2="306.5" y2="56.80" stroke="#555" stroke-width="0.9"/>
<text x="301.6" y="59.599999999999994" font-family='"Liberation Sans", sans-serif' font-size="10.2" font-weight="normal" font-style="normal" fill="#333" text-anchor="end" textLength="15.8" lengthAdjust="spacingAndGlyphs" >400</text>
<line x1="304.5" y1="43.40" x2="306.5" y2="43.40" stroke="#555" stroke-width="0.9"/>
<line x1="303.5" y1="30.00" x2="306.5" y2="30.00" stroke="#555" stroke-width="0.9"/>
<text x="301.6" y="32.8" font-family='"Liberation Sans", sans-serif' font-size="10.2" font-weight="normal" font-style="normal" fill="#333" text-anchor="end" textLength="15.8" lengthAdjust="spacingAndGlyphs" >500</text>
<line x1="307.00" y1="164" x2="307.00" y2="167" stroke="#555" stroke-width="0.9"/>
<text x="307.0" y="176.4" font-family='"Liberation Sans", sans-serif' font-size="10.2" font-weight="normal" font-style="normal" fill="#333" text-anchor="middle" textLength="5.4" lengthAdjust="spacingAndGlyphs" >0</text>
<line x1="321.17" y1="164" x2="321.17" y2="166" stroke="#555" stroke-width="0.9"/>
<line x1="335.33" y1="164" x2="335.33" y2="167" stroke="#555" stroke-width="0.9"/>
<text x="335.3334" y="176.4" font-family='"Liberation Sans", sans-serif' font-size="10.2" font-weight="normal" font-style="normal" fill="#333" text-anchor="middle" textLength="5.4" lengthAdjust="spacingAndGlyphs" >2</text>
<line x1="349.50" y1="164" x2="349.50" y2="166" stroke="#555" stroke-width="0.9"/>
<line x1="363.67" y1="164" x2="363.67" y2="167" stroke="#555" stroke-width="0.9"/>
<text x="363.6668" y="176.4" font-family='"Liberation Sans", sans-serif' font-size="10.2" font-weight="normal" font-style="normal" fill="#333" text-anchor="middle" textLength="5.4" lengthAdjust="spacingAndGlyphs" >4</text>
<line x1="377.83" y1="164" x2="377.83" y2="166" stroke="#555" stroke-width="0.9"/>
<line x1="392.00" y1="164" x2="392.00" y2="167" stroke="#555" stroke-width="0.9"/>
<text x="392.0002" y="176.4" font-family='"Liberation Sans", sans-serif' font-size="10.2" font-weight="normal" font-style="normal" fill="#333" text-anchor="middle" textLength="5.4" lengthAdjust="spacingAndGlyphs" >6</text>
<line x1="406.17" y1="164" x2="406.17" y2="166" stroke="#555" stroke-width="0.9"/>
<line x1="420.33" y1="164" x2="420.33" y2="167" stroke="#555" stroke-width="0.9"/>
<text x="420.3336" y="176.4" font-family='"Liberation Sans", sans-serif' font-size="10.2" font-weight="normal" font-style="normal" fill="#333" text-anchor="middle" textLength="5.4" lengthAdjust="spacingAndGlyphs" >8</text>
<line x1="434.50" y1="164" x2="434.50" y2="166" stroke="#555" stroke-width="0.9"/>
<line x1="448.67" y1="164" x2="448.67" y2="167" stroke="#555" stroke-width="0.9"/>
<text x="448.66700000000003" y="176.4" font-family='"Liberation Sans", sans-serif' font-size="10.2" font-weight="normal" font-style="normal" fill="#333" text-anchor="middle" textLength="9.7" lengthAdjust="spacingAndGlyphs" >10</text>
<line x1="462.83" y1="164" x2="462.83" y2="166" stroke="#555" stroke-width="0.9"/>
<line x1="477.00" y1="164" x2="477.00" y2="167" stroke="#555" stroke-width="0.9"/>
<text x="477.0004" y="176.4" font-family='"Liberation Sans", sans-serif' font-size="10.2" font-weight="normal" font-style="normal" fill="#333" text-anchor="middle" textLength="9.7" lengthAdjust="spacingAndGlyphs" >12</text>
<text x="399.3" y="187.3" font-family='"Liberation Sans", sans-serif' font-size="9.4" font-weight="normal" font-style="normal" fill="#333" text-anchor="middle" textLength="35.8" lengthAdjust="spacingAndGlyphs" >Time (h)</text>
<text transform="translate(280.3,85.8) rotate(-90)" font-family='"Liberation Sans", sans-serif' font-size="9.6" fill="#333" text-anchor="middle" textLength="82.8" lengthAdjust="spacingAndGlyphs">H<tspan font-size="6.5" dy="2">2</tspan><tspan dy="-2"> evolution (</tspan>μmol)</text>
<polyline points="307,164 335.2,153.8 363,141.1 391.6,129.7 420.2,116.1 448.9,103.8 477,84.9" fill="none" stroke="#2ab3d3" stroke-width="1"/>
<circle cx="307" cy="164" r="1.9" fill="#2ab3d3"/>
<circle cx="335.2" cy="153.8" r="1.9" fill="#2ab3d3"/>
<circle cx="363" cy="141.1" r="1.9" fill="#2ab3d3"/>
<circle cx="391.6" cy="129.7" r="1.9" fill="#2ab3d3"/>
<circle cx="420.2" cy="116.1" r="1.9" fill="#2ab3d3"/>
<circle cx="448.9" cy="103.8" r="1.9" fill="#2ab3d3"/>
<circle cx="477" cy="84.9" r="1.9" fill="#2ab3d3"/>
<polyline points="307,164 335.2,144.8 363,119.9 391.6,97 420.2,74.4 448.9,53.3 477,27.1" fill="none" stroke="#e0474c" stroke-width="1"/>
<circle cx="307" cy="164" r="1.9" fill="#e0474c"/>
<circle cx="335.2" cy="144.8" r="1.9" fill="#e0474c"/>
<circle cx="363" cy="119.9" r="1.9" fill="#e0474c"/>
<circle cx="391.6" cy="97" r="1.9" fill="#e0474c"/>
<circle cx="420.2" cy="74.4" r="1.9" fill="#e0474c"/>
<circle cx="448.9" cy="53.3" r="1.9" fill="#e0474c"/>
<circle cx="477" cy="27.1" r="1.9" fill="#e0474c"/>
<polyline points="307,164 335.2,162.7 363,161.7 391.6,161.1 420.2,159.8 448.9,159 477,157" fill="none" stroke="#111" stroke-width="1"/>
<circle cx="307" cy="164" r="1.9" fill="#111"/>
<circle cx="335.2" cy="162.7" r="1.9" fill="#111"/>
<circle cx="363" cy="161.7" r="1.9" fill="#111"/>
<circle cx="391.6" cy="161.1" r="1.9" fill="#111"/>
<circle cx="420.2" cy="159.8" r="1.9" fill="#111"/>
<circle cx="448.9" cy="159" r="1.9" fill="#111"/>
<circle cx="477" cy="157" r="1.9" fill="#111"/>
<line x1="313" y1="24.9" x2="334.6" y2="24.9" stroke="#e0474c" stroke-width="1.1" opacity="0.8"/>
<circle cx="323.8" cy="24.9" r="2" fill="#e0474c"/>
<text x="337.8" y="28.4" font-family='"Liberation Sans", sans-serif' font-size="9.4" font-weight="normal" font-style="normal" fill="#333" text-anchor="start" textLength="41.6" lengthAdjust="spacingAndGlyphs" >Pt-SA/CN</text>
<line x1="313" y1="37.4" x2="334.6" y2="37.4" stroke="#2ab3d3" stroke-width="1.1" opacity="0.8"/>
<circle cx="323.8" cy="37.4" r="2" fill="#2ab3d3"/>
<text x="337.8" y="39.6" font-family='"Liberation Sans", sans-serif' font-size="9.4" font-weight="normal" font-style="normal" fill="#333" text-anchor="start" textLength="41.6" lengthAdjust="spacingAndGlyphs" >Pt-NP/CN</text>
<line x1="313" y1="48.7" x2="334.6" y2="48.7" stroke="#555" stroke-width="1.1" opacity="0.8"/>
<circle cx="323.8" cy="48.7" r="2" fill="#111"/>
<text x="337.8" y="50" font-family='"Liberation Sans", sans-serif' font-size="9.4" font-weight="normal" font-style="normal" fill="#333" text-anchor="start" >C<tspan font-size="6" dy="2">3</tspan><tspan dy="-2">N</tspan><tspan font-size="6" dy="2">4</tspan></text>
<text x="266.6" y="12.7" font-family='"Liberation Sans", sans-serif' font-size="12.4" font-weight="bold" font-style="normal" fill="#222" text-anchor="start" >(b)</text>
</g>
<g>
<rect x="54.6" y="201.7" width="201.8" height="141.8" fill="none" stroke="#000" stroke-width="2.5"/>
<text x="49.9" y="204.18" font-family='"Liberation Serif", serif' font-size="8.0" font-weight="bold" font-style="normal" fill="#111" text-anchor="end" textLength="14" lengthAdjust="spacingAndGlyphs" >−2.0</text>
<line x1="55" y1="217.26" x2="58.8" y2="217.26" stroke="#000" stroke-width="1.9"/>
<text x="49.9" y="219.96" font-family='"Liberation Serif", serif' font-size="8.0" font-weight="bold" font-style="normal" fill="#111" text-anchor="end" textLength="14" lengthAdjust="spacingAndGlyphs" >−1.5</text>
<line x1="55" y1="233.04" x2="58.8" y2="233.04" stroke="#000" stroke-width="1.9"/>
<text x="49.9" y="235.74" font-family='"Liberation Serif", serif' font-size="8.0" font-weight="bold" font-style="normal" fill="#111" text-anchor="end" textLength="14" lengthAdjust="spacingAndGlyphs" >−1.0</text>
<line x1="55" y1="248.82" x2="58.8" y2="248.82" stroke="#000" stroke-width="1.9"/>
<text x="49.9" y="251.52" font-family='"Liberation Serif", serif' font-size="8.0" font-weight="bold" font-style="normal" fill="#111" text-anchor="end" textLength="14" lengthAdjust="spacingAndGlyphs" >−0.5</text>
<line x1="55" y1="264.60" x2="58.8" y2="264.60" stroke="#000" stroke-width="1.9"/>
<text x="49.9" y="267.3" font-family='"Liberation Serif", serif' font-size="8.0" font-weight="bold" font-style="normal" fill="#111" text-anchor="end" textLength="14" lengthAdjust="spacingAndGlyphs" >−0.0</text>
<line x1="55" y1="280.38" x2="58.8" y2="280.38" stroke="#000" stroke-width="1.9"/>
<text x="49.9" y="283.08" font-family='"Liberation Serif", serif' font-size="8.0" font-weight="bold" font-style="normal" fill="#111" text-anchor="end" textLength="9.6" lengthAdjust="spacingAndGlyphs" >0.5</text>
<line x1="55" y1="296.16" x2="58.8" y2="296.16" stroke="#000" stroke-width="1.9"/>
<text x="49.9" y="298.86" font-family='"Liberation Serif", serif' font-size="8.0" font-weight="bold" font-style="normal" fill="#111" text-anchor="end" textLength="9.6" lengthAdjust="spacingAndGlyphs" >1.0</text>
<line x1="55" y1="311.94" x2="58.8" y2="311.94" stroke="#000" stroke-width="1.9"/>
<text x="49.9" y="314.64" font-family='"Liberation Serif", serif' font-size="8.0" font-weight="bold" font-style="normal" fill="#111" text-anchor="end" textLength="9.6" lengthAdjust="spacingAndGlyphs" >1.5</text>
<line x1="55" y1="327.72" x2="58.8" y2="327.72" stroke="#000" stroke-width="1.9"/>
<text x="49.9" y="330.42" font-family='"Liberation Serif", serif' font-size="8.0" font-weight="bold" font-style="normal" fill="#111" text-anchor="end" textLength="9.6" lengthAdjust="spacingAndGlyphs" >2.0</text>
<text x="49.9" y="347.3" font-family='"Liberation Serif", serif' font-size="5.0" font-weight="bold" font-style="normal" fill="#333" text-anchor="end" >2.5</text>
<line x1="57.5" y1="264.6" x2="255" y2="264.6" stroke="#111" stroke-width="1.6" stroke-dasharray="1.6 2.4"/>
<line x1="57.5" y1="300.3" x2="255" y2="300.3" stroke="#111" stroke-width="1.6" stroke-dasharray="1.6 2.4"/>
<line x1="112" y1="238.60" x2="112" y2="317.80" stroke="#777" stroke-width="1.2"/>
<line x1="106.4" y1="238.60" x2="117.6" y2="238.60" stroke="#666" stroke-width="1.3"/>
<line x1="106.4" y1="317.80" x2="117.6" y2="317.80" stroke="#666" stroke-width="1.3"/>
<text x="109.35" y="233.6" font-family='"Liberation Serif", serif' font-size="7.6" font-weight="bold" font-style="normal" fill="#222" text-anchor="middle" textLength="17.3" lengthAdjust="spacingAndGlyphs" >−0.83</text>
<text x="112.7" y="326.9" font-family='"Liberation Serif", serif' font-size="7.3" font-weight="bold" font-style="normal" fill="#111" text-anchor="middle" textLength="12.8" lengthAdjust="spacingAndGlyphs" >1.68</text>
<text x="113.3" y="335.8" font-family='"Liberation Serif", serif' font-size="7.4" font-weight="bold" font-style="italic" fill="#111" text-anchor="middle" textLength="11" lengthAdjust="spacingAndGlyphs" >CN</text>
<text transform="translate(119.9,278.8) rotate(-90)" font-family='"Liberation Serif", serif' font-size="7.4" font-weight="bold" fill="#111" text-anchor="middle" textLength="22.8" lengthAdjust="spacingAndGlyphs">2.51 eV</text>
<line x1="150.3" y1="228.50" x2="150.3" y2="317.00" stroke="#777" stroke-width="1.2"/>
<line x1="144.70000000000002" y1="228.50" x2="155.9" y2="228.50" stroke="#666" stroke-width="1.3"/>
<line x1="144.70000000000002" y1="317.00" x2="155.9" y2="317.00" stroke="#666" stroke-width="1.3"/>
<text x="149.65" y="223.5" font-family='"Liberation Serif", serif' font-size="7.6" font-weight="bold" font-style="normal" fill="#222" text-anchor="middle" textLength="18.9" lengthAdjust="spacingAndGlyphs" >−1.14</text>
<text x="152" y="327.4" font-family='"Liberation Serif", serif' font-size="7.3" font-weight="bold" font-style="normal" fill="#111" text-anchor="middle" textLength="13.1" lengthAdjust="spacingAndGlyphs" >1.64</text>
<text x="152" y="335.6" font-family='"Liberation Serif", serif' font-size="7.4" font-weight="bold" font-style="italic" fill="#111" text-anchor="middle" textLength="30.7" lengthAdjust="spacingAndGlyphs" >CN-sc-30</text>
<text transform="translate(158.20000000000002,278.5) rotate(-90)" font-family='"Liberation Serif", serif' font-size="7.4" font-weight="bold" fill="#111" text-anchor="middle" textLength="22.8" lengthAdjust="spacingAndGlyphs">2.78 eV</text>
<line x1="189" y1="225.80" x2="189" y2="309.80" stroke="#777" stroke-width="1.2"/>
<line x1="183.4" y1="225.80" x2="194.6" y2="225.80" stroke="#666" stroke-width="1.3"/>
<line x1="183.4" y1="309.80" x2="194.6" y2="309.80" stroke="#666" stroke-width="1.3"/>
<text x="188.9" y="220.8" font-family='"Liberation Serif", serif' font-size="7.6" font-weight="bold" font-style="normal" fill="#222" text-anchor="middle" textLength="17.8" lengthAdjust="spacingAndGlyphs" >−1.23</text>
<text x="190" y="319.1" font-family='"Liberation Serif", serif' font-size="7.3" font-weight="bold" font-style="normal" fill="#111" text-anchor="middle" textLength="12.3" lengthAdjust="spacingAndGlyphs" >1.42</text>
<text x="188.2" y="328" font-family='"Liberation Serif", serif' font-size="7.4" font-weight="bold" font-style="italic" fill="#111" text-anchor="middle" textLength="26" lengthAdjust="spacingAndGlyphs" >P/CN-sc</text>
<text transform="translate(196.9,280) rotate(-90)" font-family='"Liberation Serif", serif' font-size="7.4" font-weight="bold" fill="#111" text-anchor="middle" textLength="22.8" lengthAdjust="spacingAndGlyphs">2.65 eV</text>
<line x1="227" y1="224.60" x2="227" y2="305.80" stroke="#777" stroke-width="1.2"/>
<line x1="221.4" y1="224.60" x2="232.6" y2="224.60" stroke="#666" stroke-width="1.3"/>
<line x1="221.4" y1="305.80" x2="232.6" y2="305.80" stroke="#666" stroke-width="1.3"/>
<text x="224.4" y="219.6" font-family='"Liberation Serif", serif' font-size="7.6" font-weight="bold" font-style="normal" fill="#222" text-anchor="middle" textLength="17.8" lengthAdjust="spacingAndGlyphs" >−1.27</text>
<text x="228" y="313.5" font-family='"Liberation Serif", serif' font-size="7.3" font-weight="bold" font-style="normal" fill="#111" text-anchor="middle" textLength="12" lengthAdjust="spacingAndGlyphs" >1.31</text>
<text x="229.2" y="323" font-family='"Liberation Serif", serif' font-size="7.4" font-weight="bold" font-style="italic" fill="#111" text-anchor="middle" textLength="38" lengthAdjust="spacingAndGlyphs" >Co/P/CN-sc</text>
<text transform="translate(234.9,279.0) rotate(-90)" font-family='"Liberation Serif", serif' font-size="7.4" font-weight="bold" fill="#111" text-anchor="middle" textLength="22.8" lengthAdjust="spacingAndGlyphs">2.58 eV</text>
<text x="56.8" y="261.8" font-family='"Liberation Serif", serif' font-size="7.4" font-weight="bold" font-style="italic" fill="#111" textLength="46.8" lengthAdjust="spacingAndGlyphs">(0.00V)H<tspan font-size="5.5" dy="-3.6">+</tspan><tspan dy="3.6">/H</tspan><tspan font-size="6" dy="2">2</tspan></text>
<text x="56.8" y="308.4" font-family='"Liberation Serif", serif' font-size="7.4" font-weight="bold" font-style="italic" fill="#111" textLength="50.2" lengthAdjust="spacingAndGlyphs">(1.23V) O<tspan font-size="6" dy="2">2</tspan><tspan dy="-2">/H</tspan><tspan font-size="6" dy="2">2</tspan><tspan dy="-2">O</tspan></text>
<text x="251" y="215.8" font-family='"Liberation Serif", serif' font-size="7.6" font-weight="bold" font-style="normal" fill="#111" text-anchor="end" textLength="12.7" lengthAdjust="spacingAndGlyphs" >CB</text>
<text x="251.3" y="339.9" font-family='"Liberation Serif", serif' font-size="7.6" font-weight="bold" font-style="normal" fill="#111" text-anchor="end" textLength="11.2" lengthAdjust="spacingAndGlyphs" >VB</text>
<text transform="translate(28.0,280.2) rotate(-90)" font-family='"Liberation Serif", serif' font-size="10.8" font-weight="bold" fill="#111" text-anchor="middle" textLength="101" lengthAdjust="spacingAndGlyphs">Potential (V vs NHE)</text>
<text x="37.2" y="186.6" font-family='"Liberation Sans", sans-serif' font-size="12.4" font-weight="bold" font-style="normal" fill="#222" text-anchor="start" >(c)</text>
</g>
<g>
<rect x="314.4" y="200.5" width="177.4" height="130.1" fill="none" stroke="#000" stroke-width="2.4"/>
<text x="311.3" y="203.99999999999997" font-family='"Liberation Serif", serif' font-size="7.8" font-weight="bold" font-style="normal" fill="#111" text-anchor="end" textLength="24.1" lengthAdjust="spacingAndGlyphs" >28,000</text>
<line x1="314.5" y1="219.30" x2="317" y2="219.30" stroke="#000" stroke-width="1.5"/>
<text x="311.3" y="221.9" font-family='"Liberation Serif", serif' font-size="7.8" font-weight="bold" font-style="normal" fill="#111" text-anchor="end" textLength="24.1" lengthAdjust="spacingAndGlyphs" >24,000</text>
<line x1="314.5" y1="237.20" x2="317" y2="237.20" stroke="#000" stroke-width="1.5"/>
<text x="311.3" y="239.79999999999998" font-family='"Liberation Serif", serif' font-size="7.8" font-weight="bold" font-style="normal" fill="#111" text-anchor="end" textLength="24.1" lengthAdjust="spacingAndGlyphs" >20,000</text>
<line x1="314.5" y1="255.10" x2="317" y2="255.10" stroke="#000" stroke-width="1.5"/>
<text x="311.3" y="257.7" font-family='"Liberation Serif", serif' font-size="7.8" font-weight="bold" font-style="normal" fill="#111" text-anchor="end" textLength="24.1" lengthAdjust="spacingAndGlyphs" >16,000</text>
<line x1="314.5" y1="273.00" x2="317" y2="273.00" stroke="#000" stroke-width="1.5"/>
<text x="311.3" y="275.6" font-family='"Liberation Serif", serif' font-size="7.8" font-weight="bold" font-style="normal" fill="#111" text-anchor="end" textLength="24.1" lengthAdjust="spacingAndGlyphs" >12,000</text>
<line x1="314.5" y1="290.90" x2="317" y2="290.90" stroke="#000" stroke-width="1.5"/>
<text x="311.3" y="293.5" font-family='"Liberation Serif", serif' font-size="7.8" font-weight="bold" font-style="normal" fill="#111" text-anchor="end" textLength="20.2" lengthAdjust="spacingAndGlyphs" >8 000</text>
<line x1="314.5" y1="308.80" x2="317" y2="308.80" stroke="#000" stroke-width="1.5"/>
<text x="311.3" y="311.40000000000003" font-family='"Liberation Serif", serif' font-size="7.8" font-weight="bold" font-style="normal" fill="#111" text-anchor="end" textLength="20.2" lengthAdjust="spacingAndGlyphs" >4 000</text>
<text x="313.8" y="341.3" font-family='"Liberation Serif", serif' font-size="8.6" font-weight="bold" font-style="normal" fill="#111" text-anchor="middle" >0</text>
<line x1="341.20" y1="330.5" x2="341.20" y2="327.8" stroke="#000" stroke-width="1.5"/>
<text x="341.2" y="341.3" font-family='"Liberation Serif", serif' font-size="8.6" font-weight="bold" font-style="normal" fill="#111" text-anchor="middle" >1</text>
<line x1="368.60" y1="330.5" x2="368.60" y2="327.8" stroke="#000" stroke-width="1.5"/>
<text x="368.6" y="341.3" font-family='"Liberation Serif", serif' font-size="8.6" font-weight="bold" font-style="normal" fill="#111" text-anchor="middle" >2</text>
<line x1="396.00" y1="330.5" x2="396.00" y2="327.8" stroke="#000" stroke-width="1.5"/>
<text x="396.0" y="341.3" font-family='"Liberation Serif", serif' font-size="8.6" font-weight="bold" font-style="normal" fill="#111" text-anchor="middle" >3</text>
<line x1="423.40" y1="330.5" x2="423.40" y2="327.8" stroke="#000" stroke-width="1.5"/>
<text x="423.4" y="341.3" font-family='"Liberation Serif", serif' font-size="8.6" font-weight="bold" font-style="normal" fill="#111" text-anchor="middle" >4</text>
<line x1="450.80" y1="330.5" x2="450.80" y2="327.8" stroke="#000" stroke-width="1.5"/>
<text x="450.8" y="341.3" font-family='"Liberation Serif", serif' font-size="8.6" font-weight="bold" font-style="normal" fill="#111" text-anchor="middle" >5</text>
<text x="478.2" y="341.3" font-family='"Liberation Serif", serif' font-size="8.6" font-weight="bold" font-style="normal" fill="#111" text-anchor="middle" >6</text>
<text x="401.1" y="352.4" font-family='"Liberation Serif", serif' font-size="10.4" font-weight="bold" font-style="normal" fill="#111" text-anchor="middle" textLength="39.2" lengthAdjust="spacingAndGlyphs" >Time (h)</text>
<text transform="translate(280.4,257.9) rotate(-90)" font-family='"Liberation Serif", serif' font-size="10" font-weight="bold" fill="#111" text-anchor="middle" textLength="88" lengthAdjust="spacingAndGlyphs">H<tspan font-size="6.5" dy="2">2</tspan><tspan dy="-2"> Evolved (μmol/g)</tspan></text>
<polyline points="313.80,326.70 423.40,323.34 450.80,322.81 478.20,322.31" fill="none" stroke="#000" stroke-width="1.7"/>
<circle cx="313.80" cy="326.70" r="1.6" fill="#000"/>
<circle cx="423.40" cy="323.34" r="1.6" fill="#000"/>
<circle cx="450.80" cy="322.81" r="1.6" fill="#000"/>
<circle cx="478.20" cy="322.31" r="1.6" fill="#000"/>
<polyline points="313.80,326.70 423.40,295.60 450.80,287.01 478.20,277.47" fill="none" stroke="#ff1a1a" stroke-width="1.7"/>
<circle cx="313.80" cy="326.70" r="1.6" fill="#ff1a1a"/>
<circle cx="423.40" cy="295.60" r="1.6" fill="#ff1a1a"/>
<circle cx="450.80" cy="287.01" r="1.6" fill="#ff1a1a"/>
<circle cx="478.20" cy="277.47" r="1.6" fill="#ff1a1a"/>
<polyline points="313.80,326.70 423.40,275.37 450.80,262.89 478.20,251.07" fill="none" stroke="#1a1aff" stroke-width="1.7"/>
<circle cx="313.80" cy="326.70" r="1.6" fill="#1a1aff"/>
<circle cx="423.40" cy="275.37" r="1.6" fill="#1a1aff"/>
<circle cx="450.80" cy="262.89" r="1.6" fill="#1a1aff"/>
<circle cx="478.20" cy="251.07" r="1.6" fill="#1a1aff"/>
<polyline points="313.80,326.70 423.40,255.82 450.80,241.81 478.20,227.22" fill="none" stroke="#2a8a80" stroke-width="1.7"/>
<circle cx="313.80" cy="326.70" r="1.6" fill="#2a8a80"/>
<circle cx="423.40" cy="255.82" r="1.6" fill="#2a8a80"/>
<circle cx="450.80" cy="241.81" r="1.6" fill="#2a8a80"/>
<circle cx="478.20" cy="227.22" r="1.6" fill="#2a8a80"/>
<line x1="322.9" y1="208.4" x2="340.7" y2="208.4" stroke="#000" stroke-width="1.7"/>
<circle cx="331.6" cy="208.4" r="1.3" fill="#000"/>
<text x="342" y="210.9" font-family='"Liberation Serif", serif' font-size="8.2" font-weight="bold" font-style="normal" fill="#111" text-anchor="start" textLength="32.2" lengthAdjust="spacingAndGlyphs" >CN-sc-30</text>
<line x1="322.9" y1="218.4" x2="340.7" y2="218.4" stroke="#ff1a1a" stroke-width="1.7"/>
<circle cx="331.6" cy="218.4" r="1.3" fill="#ff1a1a"/>
<text x="342" y="220.9" font-family='"Liberation Serif", serif' font-size="8.2" font-weight="bold" font-style="normal" fill="#111" text-anchor="start" textLength="26.5" lengthAdjust="spacingAndGlyphs" >P/CN-sc</text>
<line x1="322.9" y1="228.3" x2="340.7" y2="228.3" stroke="#1a1aff" stroke-width="1.7"/>
<circle cx="331.6" cy="228.3" r="1.3" fill="#1a1aff"/>
<text x="342" y="230.8" font-family='"Liberation Serif", serif' font-size="8.2" font-weight="bold" font-style="normal" fill="#111" text-anchor="start" textLength="33" lengthAdjust="spacingAndGlyphs" >Co/CN-sc</text>
<line x1="322.9" y1="238.6" x2="340.7" y2="238.6" stroke="#2a8a80" stroke-width="1.7"/>
<circle cx="331.6" cy="238.6" r="1.3" fill="#2a8a80"/>
<text x="342" y="241.1" font-family='"Liberation Serif", serif' font-size="8.2" font-weight="bold" font-style="normal" fill="#111" text-anchor="start" textLength="41" lengthAdjust="spacingAndGlyphs" >Co/P/CN-sc</text>
<text x="263.1" y="184.2" font-family='"Liberation Sans", sans-serif' font-size="12" font-weight="bold" font-style="normal" fill="#222" text-anchor="start" >(d)</text>
</g>
<g>
<text x="44.3" y="369.5" font-family='"Liberation Sans", sans-serif' font-size="11.7" font-weight="bold" font-style="normal" fill="#222" text-anchor="start" >(e)</text>
<g clip-path="url(#temclip)">
<g filter="url(#tem)">
<rect x="30" y="350" width="215" height="215" fill="#2b2b2b"/>
<path d="M30,350 L197,350 L197,390 L195,410 L184,428 L165,446 L142,468 L118,491 L92,510 L60,526 L30,536 Z" fill="#585858"/>
<path d="M30,350 L186,350 L181,392 L166,414 L148,434 L125,458 L100,482 L72,500 L30,515 Z" fill="url(#temL)" filter="url(#blur6)"/>
</g>
</g>
<circle cx="125.6" cy="386.7" r="3.4" fill="none" stroke="#7a6aa8" stroke-width="0.8" opacity="0.35"/>
<circle cx="125.6" cy="386.7" r="1.3" fill="#3a3550" opacity="0.6"/>
<circle cx="125.6" cy="386.7" r="2.6" fill="none" stroke="#ece61a" stroke-width="1.1"/>
<circle cx="133" cy="399.3" r="3.4" fill="none" stroke="#7a6aa8" stroke-width="0.8" opacity="0.35"/>
<circle cx="133" cy="399.3" r="1.3" fill="#3a3550" opacity="0.6"/>
<circle cx="133" cy="399.3" r="2.6" fill="none" stroke="#ece61a" stroke-width="1.1"/>
<circle cx="111" cy="423" r="3.4" fill="none" stroke="#7a6aa8" stroke-width="0.8" opacity="0.35"/>
<circle cx="111" cy="423" r="1.3" fill="#3a3550" opacity="0.6"/>
<circle cx="111" cy="423" r="2.6" fill="none" stroke="#ece61a" stroke-width="1.1"/>
<circle cx="177.6" cy="424" r="3.4" fill="none" stroke="#7a6aa8" stroke-width="0.8" opacity="0.35"/>
<circle cx="177.6" cy="424" r="1.3" fill="#3a3550" opacity="0.6"/>
<circle cx="177.6" cy="424" r="2.6" fill="none" stroke="#ece61a" stroke-width="1.1"/>
<circle cx="150" cy="436.2" r="3.4" fill="none" stroke="#7a6aa8" stroke-width="0.8" opacity="0.35"/>
<circle cx="150" cy="436.2" r="1.3" fill="#3a3550" opacity="0.6"/>
<circle cx="150" cy="436.2" r="2.6" fill="none" stroke="#ece61a" stroke-width="1.1"/>
<circle cx="73.7" cy="458.9" r="3.4" fill="none" stroke="#7a6aa8" stroke-width="0.8" opacity="0.35"/>
<circle cx="73.7" cy="458.9" r="1.3" fill="#3a3550" opacity="0.6"/>
<circle cx="73.7" cy="458.9" r="2.6" fill="none" stroke="#ece61a" stroke-width="1.1"/>
<circle cx="105.8" cy="476" r="3.4" fill="none" stroke="#7a6aa8" stroke-width="0.8" opacity="0.35"/>
<circle cx="105.8" cy="476" r="1.3" fill="#3a3550" opacity="0.6"/>
<circle cx="105.8" cy="476" r="2.6" fill="none" stroke="#ece61a" stroke-width="1.1"/>
<circle cx="88.3" cy="491" r="3.4" fill="none" stroke="#7a6aa8" stroke-width="0.8" opacity="0.35"/>
<circle cx="88.3" cy="491" r="1.3" fill="#3a3550" opacity="0.6"/>
<circle cx="88.3" cy="491" r="2.6" fill="none" stroke="#ece61a" stroke-width="1.1"/>
<circle cx="105.8" cy="495.5" r="3.4" fill="none" stroke="#7a6aa8" stroke-width="0.8" opacity="0.35"/>
<circle cx="105.8" cy="495.5" r="1.3" fill="#3a3550" opacity="0.6"/>
<circle cx="105.8" cy="495.5" r="2.6" fill="none" stroke="#ece61a" stroke-width="1.1"/>
<circle cx="78.6" cy="503" r="3.4" fill="none" stroke="#7a6aa8" stroke-width="0.8" opacity="0.35"/>
<circle cx="78.6" cy="503" r="1.3" fill="#3a3550" opacity="0.6"/>
<circle cx="78.6" cy="503" r="2.6" fill="none" stroke="#ece61a" stroke-width="1.1"/>
<path d="M58,542.5 L73,542.5 M58,540 L58,543 M73,540 L73,543" stroke="#ddd" stroke-width="0.7" fill="none"/>
<text x="60" y="540" font-family='"Liberation Sans", sans-serif' font-size="3.5" fill="#ddd">5 nm</text>
</g>
<g>
<rect x="300" y="378.1" width="195" height="155.9" fill="none" stroke="#222" stroke-width="1.2"/>
<line x1="297.2" y1="534.0" x2="300" y2="534.0" stroke="#222" stroke-width="1"/>
<text x="295.6" y="536.5" font-family='"Liberation Sans", sans-serif' font-size="7.0" font-weight="bold" font-style="normal" fill="#222" text-anchor="end" textLength="4.3" lengthAdjust="spacingAndGlyphs" >0</text>
<line x1="297.2" y1="508.0" x2="300" y2="508.0" stroke="#222" stroke-width="1"/>
<text x="295.6" y="510.5" font-family='"Liberation Sans", sans-serif' font-size="7.0" font-weight="bold" font-style="normal" fill="#222" text-anchor="end" textLength="4.3" lengthAdjust="spacingAndGlyphs" >1</text>
<line x1="297.2" y1="482.0" x2="300" y2="482.0" stroke="#222" stroke-width="1"/>
<text x="295.6" y="484.5" font-family='"Liberation Sans", sans-serif' font-size="7.0" font-weight="bold" font-style="normal" fill="#222" text-anchor="end" textLength="4.3" lengthAdjust="spacingAndGlyphs" >2</text>
<line x1="297.2" y1="456.0" x2="300" y2="456.0" stroke="#222" stroke-width="1"/>
<text x="295.6" y="458.5" font-family='"Liberation Sans", sans-serif' font-size="7.0" font-weight="bold" font-style="normal" fill="#222" text-anchor="end" textLength="4.3" lengthAdjust="spacingAndGlyphs" >3</text>
<line x1="297.2" y1="430.0" x2="300" y2="430.0" stroke="#222" stroke-width="1"/>
<text x="295.6" y="432.5" font-family='"Liberation Sans", sans-serif' font-size="7.0" font-weight="bold" font-style="normal" fill="#222" text-anchor="end" textLength="4.3" lengthAdjust="spacingAndGlyphs" >4</text>
<line x1="297.2" y1="404.0" x2="300" y2="404.0" stroke="#222" stroke-width="1"/>
<text x="295.6" y="406.5" font-family='"Liberation Sans", sans-serif' font-size="7.0" font-weight="bold" font-style="normal" fill="#222" text-anchor="end" textLength="4.3" lengthAdjust="spacingAndGlyphs" >5</text>
<line x1="297.2" y1="378.0" x2="300" y2="378.0" stroke="#222" stroke-width="1"/>
<text x="295.6" y="380.5" font-family='"Liberation Sans", sans-serif' font-size="7.0" font-weight="bold" font-style="normal" fill="#222" text-anchor="end" textLength="4.3" lengthAdjust="spacingAndGlyphs" >6</text>
<line x1="298.3" y1="521.0" x2="300" y2="521.0" stroke="#222" stroke-width="0.9"/>
<line x1="298.3" y1="495.0" x2="300" y2="495.0" stroke="#222" stroke-width="0.9"/>
<line x1="298.3" y1="469.0" x2="300" y2="469.0" stroke="#222" stroke-width="0.9"/>
<line x1="298.3" y1="443.0" x2="300" y2="443.0" stroke="#222" stroke-width="0.9"/>
<line x1="298.3" y1="417.0" x2="300" y2="417.0" stroke="#222" stroke-width="0.9"/>
<line x1="298.3" y1="391.0" x2="300" y2="391.0" stroke="#222" stroke-width="0.9"/>
<rect x="310" y="401.40" width="38.20" height="132.60" fill="url(#barB)"/>
<rect x="348.2" y="489.80" width="39.60" height="44.20" fill="url(#barR)"/>
<rect x="407.1" y="456.78" width="38.90" height="77.22" fill="url(#barB)"/>
<rect x="446" y="526.72" width="38.60" height="7.28" fill="url(#barR)"/>
<line x1="300" y1="534" x2="495" y2="534" stroke="#222" stroke-width="1.2"/>
<text x="348.3" y="396.9" font-family='"Liberation Sans", sans-serif' font-size="10.3" font-weight="bold" font-style="normal" fill="#222" text-anchor="middle" textLength="43.6" lengthAdjust="spacingAndGlyphs" >3.1 times</text>
<text x="449" y="453.4" font-family='"Liberation Sans", sans-serif' font-size="10.3" font-weight="bold" font-style="normal" fill="#222" text-anchor="middle" textLength="49.2" lengthAdjust="spacingAndGlyphs" >10.8 times</text>
<text x="349.5" y="544.8" font-family='"Liberation Sans", sans-serif' font-size="10.2" font-weight="bold" font-style="normal" fill="#222" text-anchor="middle" textLength="45.6" lengthAdjust="spacingAndGlyphs" >Blue LED</text>
<text x="445.1" y="544.8" font-family='"Liberation Sans", sans-serif' font-size="10.2" font-weight="bold" font-style="normal" fill="#222" text-anchor="middle" textLength="52.6" lengthAdjust="spacingAndGlyphs" >Green LED</text>
<rect x="435.3" y="383.9" width="17.3" height="8.3" fill="url(#barB)"/>
<rect x="435.3" y="396.4" width="17.3" height="8.3" fill="url(#barR)"/>
<text x="455.9" y="390.8" font-family='"Liberation Sans", sans-serif' font-size="7.6" font-weight="bold" font-style="normal" fill="#222" text-anchor="start" textLength="35.7" lengthAdjust="spacingAndGlyphs" >SAVCN-3</text>
<text x="455.9" y="403.3" font-family='"Liberation Sans", sans-serif' font-size="7.6" font-weight="bold" font-style="normal" fill="#222" text-anchor="start" >PCN</text>
<text transform="translate(284.6,454.3) rotate(-90)" font-family='"Liberation Sans", sans-serif' font-size="10.4" font-weight="bold" fill="#222" text-anchor="middle" textLength="125" lengthAdjust="spacingAndGlyphs">H<tspan font-size="6" dy="2">2</tspan><tspan dy="-2"> evolution(mmol g</tspan><tspan font-size="6" dy="-3">−1</tspan><tspan dy="3"> h</tspan><tspan font-size="6" dy="-3">−1</tspan><tspan dy="3">)</tspan></text>
<text x="269.6" y="366.5" font-family='"Liberation Sans", sans-serif' font-size="12" font-weight="bold" font-style="normal" fill="#222" text-anchor="start" >(f)</text>
</g>
</svg>
</body></html>
